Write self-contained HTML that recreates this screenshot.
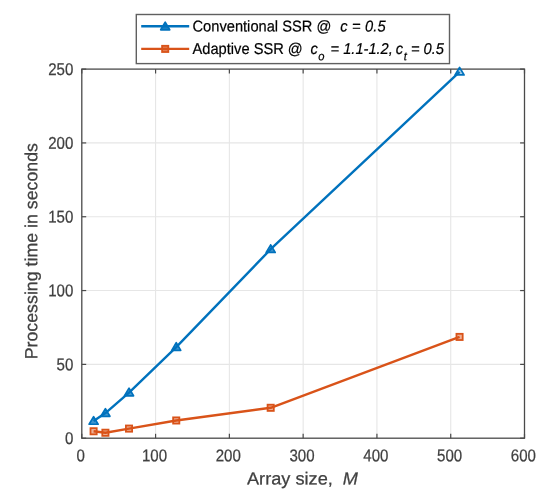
<!DOCTYPE html><html><head><meta charset="utf-8"><title>Processing time</title>
<style>html,body{margin:0;padding:0;background:#fff}svg{display:block}text{font-family:"Liberation Sans",sans-serif}</style></head><body>
<svg width="550" height="494" viewBox="0 0 550 494">
<rect width="550" height="494" fill="#fff"/>
<line x1="155.58" y1="69.1" x2="155.58" y2="438.2" stroke="#e6e6e6" stroke-width="1.1"/>
<line x1="229.37" y1="69.1" x2="229.37" y2="438.2" stroke="#e6e6e6" stroke-width="1.1"/>
<line x1="303.15" y1="69.1" x2="303.15" y2="438.2" stroke="#e6e6e6" stroke-width="1.1"/>
<line x1="376.93" y1="69.1" x2="376.93" y2="438.2" stroke="#e6e6e6" stroke-width="1.1"/>
<line x1="450.72" y1="69.1" x2="450.72" y2="438.2" stroke="#e6e6e6" stroke-width="1.1"/>
<line x1="81.8" y1="364.38" x2="524.5" y2="364.38" stroke="#e6e6e6" stroke-width="1.1"/>
<line x1="81.8" y1="290.56" x2="524.5" y2="290.56" stroke="#e6e6e6" stroke-width="1.1"/>
<line x1="81.8" y1="216.74" x2="524.5" y2="216.74" stroke="#e6e6e6" stroke-width="1.1"/>
<line x1="81.8" y1="142.92" x2="524.5" y2="142.92" stroke="#e6e6e6" stroke-width="1.1"/>
<rect x="81.8" y="69.1" width="442.7" height="369.1" fill="none" stroke="#4a4a4a" stroke-width="1.3"/>
<line x1="81.80" y1="438.2" x2="81.80" y2="433.8" stroke="#4a4a4a" stroke-width="1.2"/>
<line x1="81.80" y1="69.1" x2="81.80" y2="73.5" stroke="#4a4a4a" stroke-width="1.2"/>
<text transform="translate(80.70,461.30) rotate(0.03) scale(0.885,1)" font-size="17.0" fill="#404040" stroke="#404040" stroke-width="0.25" text-anchor="middle" xml:space="preserve" >0</text>
<line x1="155.58" y1="438.2" x2="155.58" y2="433.8" stroke="#4a4a4a" stroke-width="1.2"/>
<line x1="155.58" y1="69.1" x2="155.58" y2="73.5" stroke="#4a4a4a" stroke-width="1.2"/>
<text transform="translate(154.48,461.30) rotate(0.03) scale(0.885,1)" font-size="17.0" fill="#404040" stroke="#404040" stroke-width="0.25" text-anchor="middle" xml:space="preserve" >100</text>
<line x1="229.37" y1="438.2" x2="229.37" y2="433.8" stroke="#4a4a4a" stroke-width="1.2"/>
<line x1="229.37" y1="69.1" x2="229.37" y2="73.5" stroke="#4a4a4a" stroke-width="1.2"/>
<text transform="translate(228.27,461.30) rotate(0.03) scale(0.885,1)" font-size="17.0" fill="#404040" stroke="#404040" stroke-width="0.25" text-anchor="middle" xml:space="preserve" >200</text>
<line x1="303.15" y1="438.2" x2="303.15" y2="433.8" stroke="#4a4a4a" stroke-width="1.2"/>
<line x1="303.15" y1="69.1" x2="303.15" y2="73.5" stroke="#4a4a4a" stroke-width="1.2"/>
<text transform="translate(302.05,461.30) rotate(0.03) scale(0.885,1)" font-size="17.0" fill="#404040" stroke="#404040" stroke-width="0.25" text-anchor="middle" xml:space="preserve" >300</text>
<line x1="376.93" y1="438.2" x2="376.93" y2="433.8" stroke="#4a4a4a" stroke-width="1.2"/>
<line x1="376.93" y1="69.1" x2="376.93" y2="73.5" stroke="#4a4a4a" stroke-width="1.2"/>
<text transform="translate(375.83,461.30) rotate(0.03) scale(0.885,1)" font-size="17.0" fill="#404040" stroke="#404040" stroke-width="0.25" text-anchor="middle" xml:space="preserve" >400</text>
<line x1="450.72" y1="438.2" x2="450.72" y2="433.8" stroke="#4a4a4a" stroke-width="1.2"/>
<line x1="450.72" y1="69.1" x2="450.72" y2="73.5" stroke="#4a4a4a" stroke-width="1.2"/>
<text transform="translate(449.62,461.30) rotate(0.03) scale(0.885,1)" font-size="17.0" fill="#404040" stroke="#404040" stroke-width="0.25" text-anchor="middle" xml:space="preserve" >500</text>
<line x1="524.50" y1="438.2" x2="524.50" y2="433.8" stroke="#4a4a4a" stroke-width="1.2"/>
<line x1="524.50" y1="69.1" x2="524.50" y2="73.5" stroke="#4a4a4a" stroke-width="1.2"/>
<text transform="translate(523.40,461.30) rotate(0.03) scale(0.885,1)" font-size="17.0" fill="#404040" stroke="#404040" stroke-width="0.25" text-anchor="middle" xml:space="preserve" >600</text>
<line x1="81.8" y1="438.20" x2="86.2" y2="438.20" stroke="#4a4a4a" stroke-width="1.2"/>
<line x1="524.5" y1="438.20" x2="520.1" y2="438.20" stroke="#4a4a4a" stroke-width="1.2"/>
<text transform="translate(73.30,444.00) rotate(0.03) scale(0.885,1)" font-size="17.0" fill="#404040" stroke="#404040" stroke-width="0.25" text-anchor="end" xml:space="preserve" >0</text>
<line x1="81.8" y1="364.38" x2="86.2" y2="364.38" stroke="#4a4a4a" stroke-width="1.2"/>
<line x1="524.5" y1="364.38" x2="520.1" y2="364.38" stroke="#4a4a4a" stroke-width="1.2"/>
<text transform="translate(73.30,370.18) rotate(0.03) scale(0.885,1)" font-size="17.0" fill="#404040" stroke="#404040" stroke-width="0.25" text-anchor="end" xml:space="preserve" >50</text>
<line x1="81.8" y1="290.56" x2="86.2" y2="290.56" stroke="#4a4a4a" stroke-width="1.2"/>
<line x1="524.5" y1="290.56" x2="520.1" y2="290.56" stroke="#4a4a4a" stroke-width="1.2"/>
<text transform="translate(73.30,296.36) rotate(0.03) scale(0.885,1)" font-size="17.0" fill="#404040" stroke="#404040" stroke-width="0.25" text-anchor="end" xml:space="preserve" >100</text>
<line x1="81.8" y1="216.74" x2="86.2" y2="216.74" stroke="#4a4a4a" stroke-width="1.2"/>
<line x1="524.5" y1="216.74" x2="520.1" y2="216.74" stroke="#4a4a4a" stroke-width="1.2"/>
<text transform="translate(73.30,222.54) rotate(0.03) scale(0.885,1)" font-size="17.0" fill="#404040" stroke="#404040" stroke-width="0.25" text-anchor="end" xml:space="preserve" >150</text>
<line x1="81.8" y1="142.92" x2="86.2" y2="142.92" stroke="#4a4a4a" stroke-width="1.2"/>
<line x1="524.5" y1="142.92" x2="520.1" y2="142.92" stroke="#4a4a4a" stroke-width="1.2"/>
<text transform="translate(73.30,148.72) rotate(0.03) scale(0.885,1)" font-size="17.0" fill="#404040" stroke="#404040" stroke-width="0.25" text-anchor="end" xml:space="preserve" >200</text>
<line x1="81.8" y1="69.10" x2="86.2" y2="69.10" stroke="#4a4a4a" stroke-width="1.2"/>
<line x1="524.5" y1="69.10" x2="520.1" y2="69.10" stroke="#4a4a4a" stroke-width="1.2"/>
<text transform="translate(73.30,74.90) rotate(0.03) scale(0.885,1)" font-size="17.0" fill="#404040" stroke="#404040" stroke-width="0.25" text-anchor="end" xml:space="preserve" >250</text>
<text transform="translate(247.00,484.40) rotate(0.03) scale(1.0,1)" font-size="17.6" fill="#404040" stroke="#404040" stroke-width="0.25" text-anchor="start" xml:space="preserve" textLength="111.0" lengthAdjust="spacingAndGlyphs">Array size,  <tspan font-style="italic">M</tspan></text>
<text transform="translate(37.2,359.3) rotate(-89.97)" font-size="17.6" fill="#404040" stroke="#404040" stroke-width="0.25" textLength="216.3" lengthAdjust="spacingAndGlyphs">Processing time in seconds</text>
<polyline points="93.61,421.07 105.41,413.10 129.02,392.58 176.24,347.11 270.69,249.22 459.57,71.76" fill="none" stroke="#0072BD" stroke-width="2.4" stroke-linejoin="round"/>
<polygon points="93.61,416.67 89.11,424.27 98.11,424.27" fill="#0072BD" fill-opacity="0.75" stroke="#0072BD" stroke-width="1.7" stroke-linejoin="round"/>
<polygon points="105.41,408.70 100.91,416.30 109.91,416.30" fill="#0072BD" fill-opacity="0.75" stroke="#0072BD" stroke-width="1.7" stroke-linejoin="round"/>
<polygon points="129.02,388.18 124.52,395.78 133.52,395.78" fill="#0072BD" fill-opacity="0.75" stroke="#0072BD" stroke-width="1.7" stroke-linejoin="round"/>
<polygon points="176.24,342.71 171.74,350.31 180.74,350.31" fill="#0072BD" fill-opacity="0.75" stroke="#0072BD" stroke-width="1.7" stroke-linejoin="round"/>
<polygon points="270.69,244.82 266.19,252.42 275.19,252.42" fill="#0072BD" fill-opacity="0.75" stroke="#0072BD" stroke-width="1.7" stroke-linejoin="round"/>
<polygon points="459.57,67.36 455.07,74.96 464.07,74.96" fill="#0072BD" fill-opacity="0.35" stroke="#0072BD" stroke-width="1.7" stroke-linejoin="round"/>
<polyline points="93.61,431.26 105.41,432.74 129.02,428.60 176.24,420.48 270.69,407.79 459.57,336.92" fill="none" stroke="#D95319" stroke-width="2.4" stroke-linejoin="round"/>
<rect x="90.51" y="428.16" width="6.2" height="6.2" fill="#D95319" fill-opacity="0.45" stroke="#D95319" stroke-width="1.8"/>
<rect x="102.31" y="429.64" width="6.2" height="6.2" fill="#D95319" fill-opacity="0.45" stroke="#D95319" stroke-width="1.8"/>
<rect x="125.92" y="425.50" width="6.2" height="6.2" fill="#D95319" fill-opacity="0.45" stroke="#D95319" stroke-width="1.8"/>
<rect x="173.14" y="417.38" width="6.2" height="6.2" fill="#D95319" fill-opacity="0.45" stroke="#D95319" stroke-width="1.8"/>
<rect x="267.59" y="404.69" width="6.2" height="6.2" fill="#D95319" fill-opacity="0.45" stroke="#D95319" stroke-width="1.8"/>
<rect x="456.47" y="333.82" width="6.2" height="6.2" fill="#D95319" fill-opacity="0.45" stroke="#D95319" stroke-width="1.8"/>
<rect x="136.3" y="14.5" width="313.2" height="49.1" fill="#fff" stroke="#606060" stroke-width="1.4"/>
<line x1="141.2" y1="26.3" x2="189.2" y2="26.3" stroke="#0072BD" stroke-width="2.4"/>
<polygon points="165.20,22.20 160.70,29.80 169.70,29.80" fill="#0072BD" fill-opacity="0.9" stroke="#0072BD" stroke-width="1.7" stroke-linejoin="round"/>
<line x1="141.2" y1="48.9" x2="189.2" y2="48.9" stroke="#D95319" stroke-width="2.4"/>
<rect x="162.10" y="45.80" width="6.2" height="6.2" fill="#D95319" fill-opacity="0.75" stroke="#D95319" stroke-width="1.8"/>
<text transform="translate(192.50,31.50) rotate(0.03) scale(0.9344,1)" font-size="15.7" fill="#000" stroke="#000" stroke-width="0.2" text-anchor="start" xml:space="preserve" >Conventional SSR @</text>
<text transform="translate(340.20,31.50) rotate(0.03) scale(0.9344,1)" font-size="15.7" fill="#000" stroke="#000" stroke-width="0.2" text-anchor="start" xml:space="preserve" font-style="italic" textLength="48.59" lengthAdjust="spacing">c = 0.5</text>
<text transform="translate(192.50,54.00) rotate(0.03) scale(0.9344,1)" font-size="15.7" fill="#000" stroke="#000" stroke-width="0.2" text-anchor="start" xml:space="preserve" >Adaptive SSR @</text>
<text transform="translate(310.60,54.00) rotate(0.03) scale(0.9344,1)" font-size="15.7" fill="#000" stroke="#000" stroke-width="0.2" text-anchor="start" xml:space="preserve" font-style="italic" >c</text>
<text transform="translate(318.20,60.20) rotate(0.03) scale(0.9344,1)" font-size="12.0" fill="#000" stroke="#000" stroke-width="0.2" text-anchor="start" xml:space="preserve" font-style="italic" >o</text>
<text transform="translate(330.60,54.00) rotate(0.03) scale(0.9344,1)" font-size="15.7" fill="#000" stroke="#000" stroke-width="0.2" text-anchor="start" xml:space="preserve" font-style="italic" textLength="66.57" lengthAdjust="spacing">= 1.1-1.2,</text>
<text transform="translate(395.80,54.00) rotate(0.03) scale(0.9344,1)" font-size="15.7" fill="#000" stroke="#000" stroke-width="0.2" text-anchor="start" xml:space="preserve" font-style="italic" >c</text>
<text transform="translate(403.70,60.20) rotate(0.03) scale(0.9344,1)" font-size="12.0" fill="#000" stroke="#000" stroke-width="0.2" text-anchor="start" xml:space="preserve" font-style="italic" >t</text>
<text transform="translate(411.00,54.00) rotate(0.03) scale(0.9344,1)" font-size="15.7" fill="#000" stroke="#000" stroke-width="0.2" text-anchor="start" xml:space="preserve" font-style="italic" textLength="35.32" lengthAdjust="spacing">= 0.5</text>
</svg></body></html>
